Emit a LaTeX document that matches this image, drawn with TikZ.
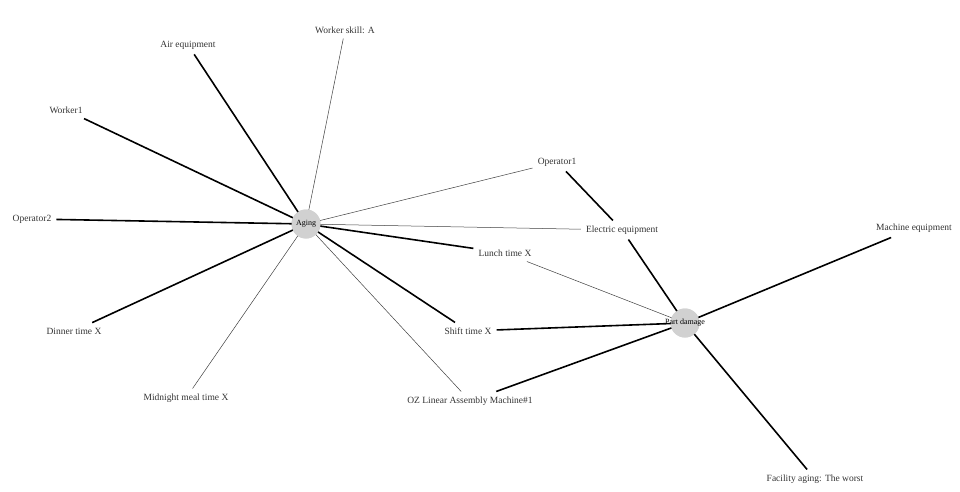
\documentclass[tikz,border=0pt]{standalone}
\usepackage{fontspec}
\setmainfont{Liberation Serif}
\begin{document}
\begin{tikzpicture}[x=1pt,y=-1pt,
  lab/.style={font=\fontsize{9.5}{10}\selectfont, text=black!80, inner sep=5pt},
  hub/.style={circle, fill=black!18, minimum size=29pt, inner sep=0pt},
  hubtxt/.style={font=\fontsize{8}{9}\selectfont, inner sep=0pt},
  thick1/.style={line width=1.6pt, black},
  thin1/.style={line width=0.5pt, black!75}]
\useasboundingbox (0,0) rectangle (960,492);
\node[hub] (ag) at (306,224) {};
\node[hub] (pd) at (685,323) {};
\node[lab] (air) at (188,45) {Air equipment};
\node[lab] (ws) at (345,30) {Worker skill: A};
\node[lab] (w1) at (66,110) {Worker1};
\node[lab] (op2) at (32,219) {Operator2};
\node[lab] (din) at (74,331) {Dinner time X};
\node[lab] (mid) at (186,398) {Midnight meal time X};
\node[lab] (oz) at (470,401) {OZ Linear Assembly Machine\#1};
\node[lab] (sh) at (468,331) {Shift time X};
\node[lab] (lu) at (505,253) {Lunch time X};
\node[lab] (el) at (622,230) {Electric equipment};
\node[lab] (op1) at (557,162) {Operator1};
\node[lab] (me) at (914,228) {Machine equipment};
\node[lab] (fa) at (815,479) {Facility aging: The worst};
\draw[thick1] (air) -- (ag.center);
\draw[thin1] (ws) -- (ag.center);
\draw[thick1] (w1) -- (ag.center);
\draw[thick1] (op2) -- (ag.center);
\draw[thick1] (din) -- (ag.center);
\draw[thin1] (mid) -- (ag.center);
\draw[thin1] (oz) -- (ag.center);
\draw[thick1] (sh) -- (ag.center);
\draw[thick1] (lu) -- (ag.center);
\draw[thin1] (el) -- (ag.center);
\draw[thin1] (op1) -- (ag.center);
\draw[thick1] (op1) -- (el);
\draw[thick1] (oz) -- (pd.center);
\draw[thick1] (sh) -- (pd.center);
\draw[thin1] (lu) -- (pd.center);
\draw[thick1] (el) -- (pd.center);
\draw[thick1] (me) -- (pd.center);
\draw[thick1] (fa) -- (pd.center);
\fill[black!18] (ag.center) circle (14.5pt);
\fill[black!18] (pd.center) circle (14.5pt);
\node[hubtxt] (agt) at (ag.center) {Aging};
\node[hubtxt] (pdt) at (pd.center) {Part damage};
\end{tikzpicture}
\end{document}
